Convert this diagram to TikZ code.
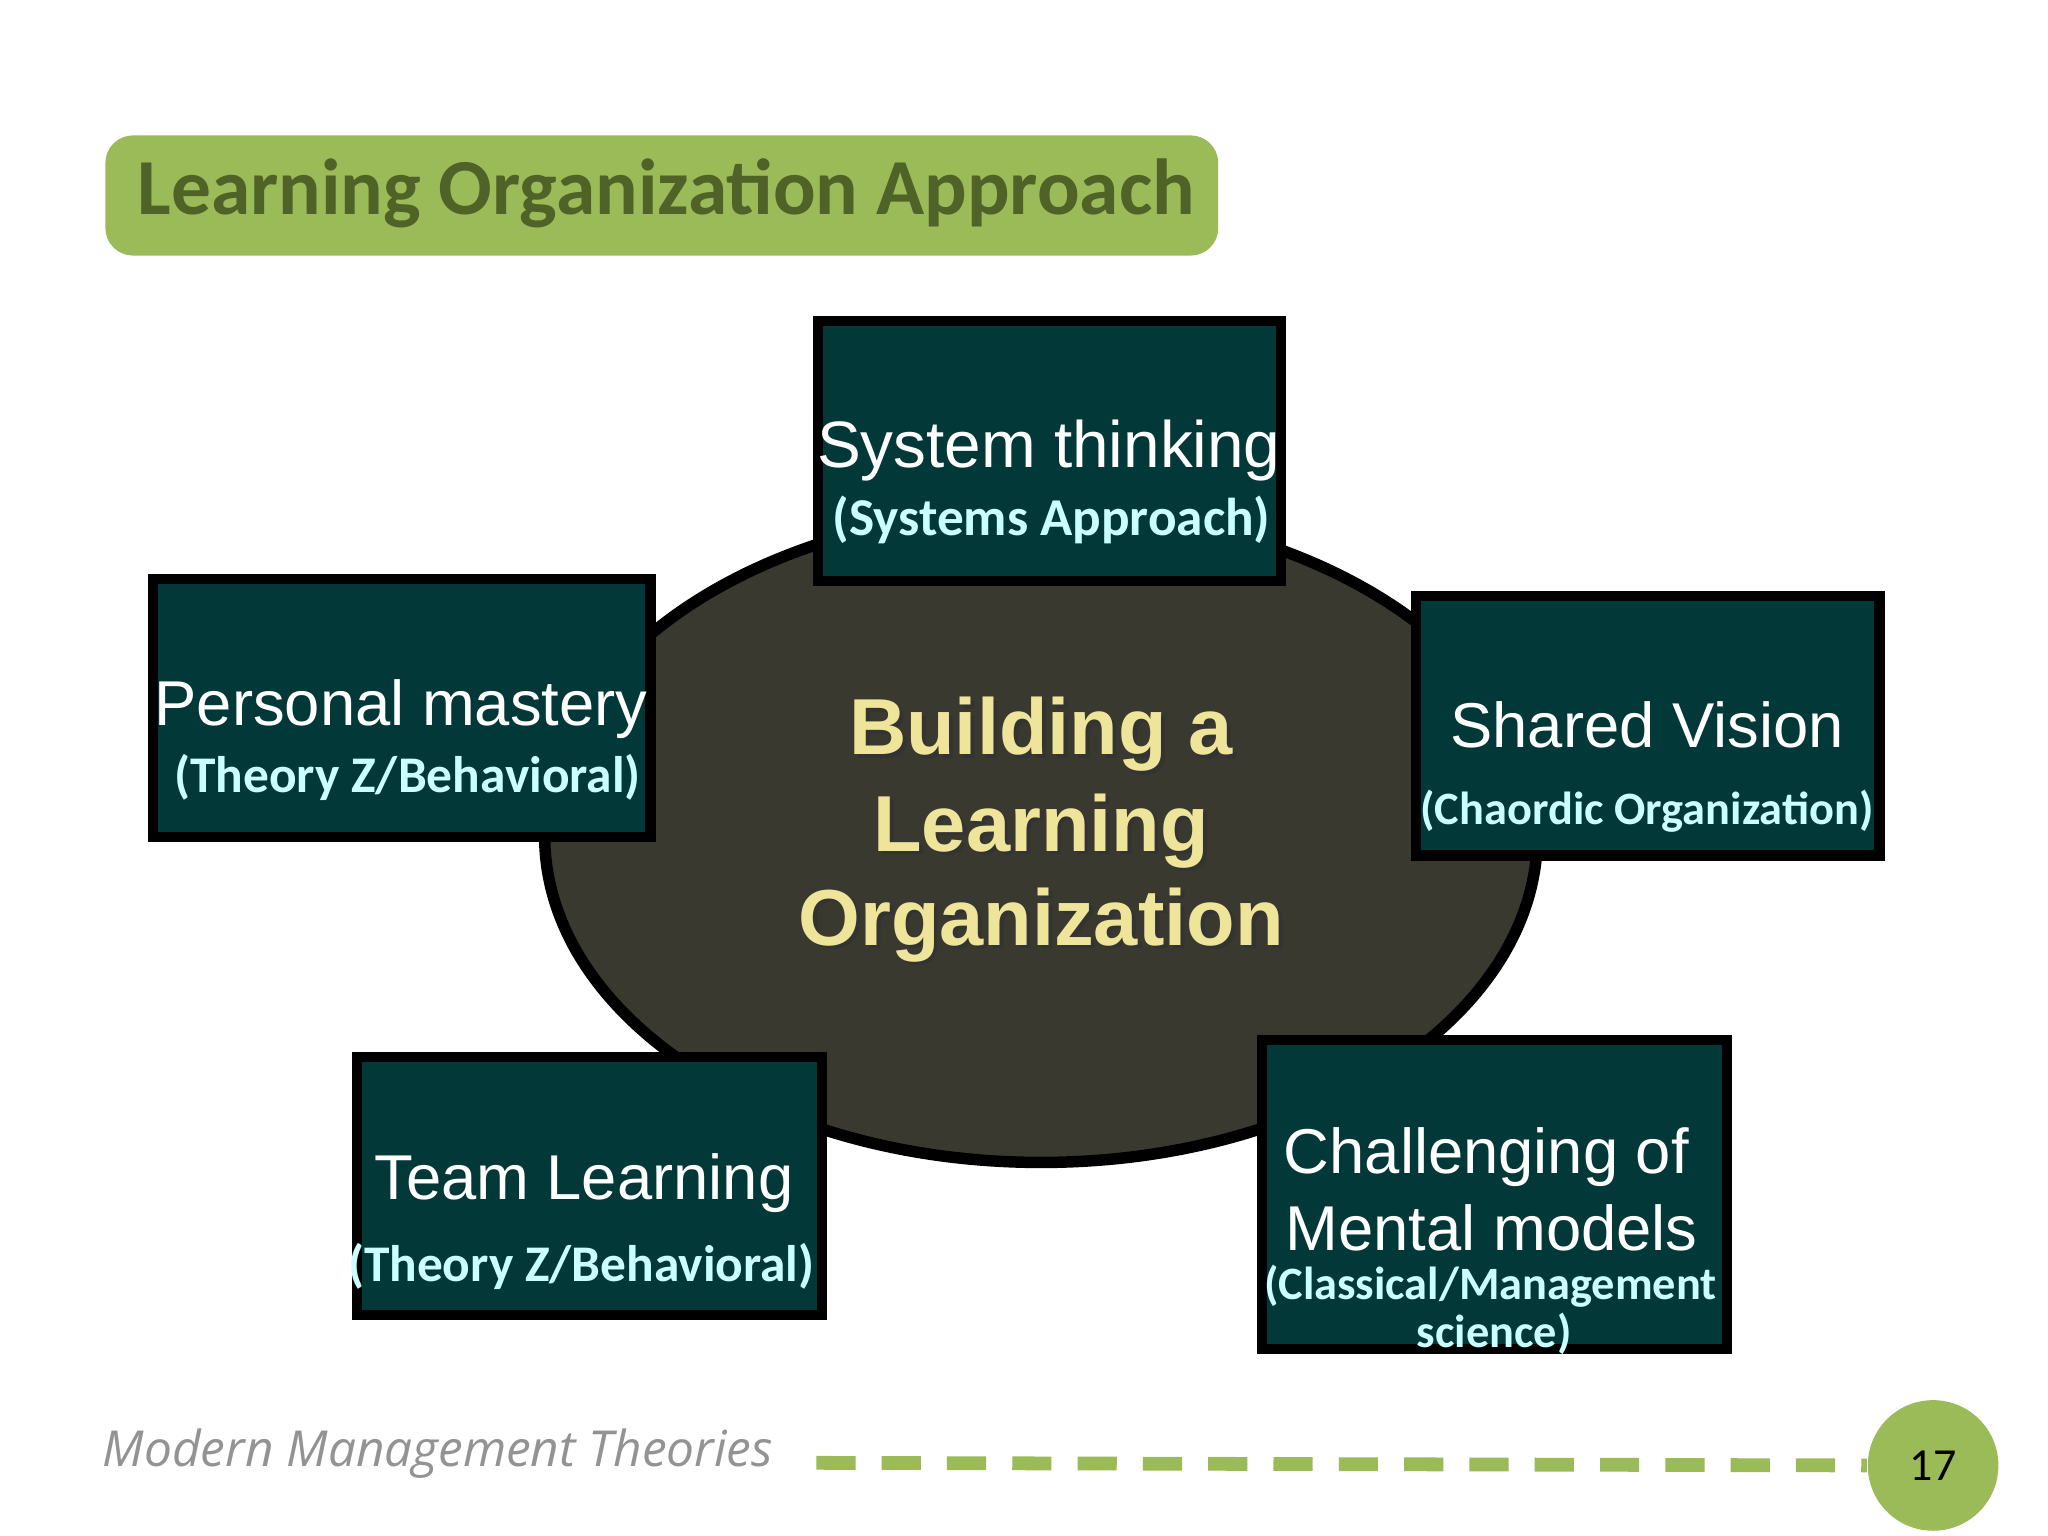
\documentclass[tikz,border=0pt]{standalone}
\usepackage{fontspec}
\setmainfont{Liberation Sans}
\newfontfamily\calfont{Carlito}
\newfontfamily\osi{Open Sans}
\usetikzlibrary{shapes.geometric}
\definecolor{tgreen}{HTML}{9BBB59}
\definecolor{tdark}{HTML}{4F6228}
\definecolor{teal}{HTML}{033838}
\definecolor{olive}{HTML}{3A3930}
\definecolor{cy}{HTML}{CCFFFF}
\definecolor{yel}{HTML}{EEE49A}
\tikzset{
 box/.style={draw=black,line width=2.2pt,fill=teal,inner sep=0pt},
 main/.style={text=white,font=\fontsize{13.8}{16}\selectfont,inner sep=0pt},
 sub/.style={text=cy,font=\calfont\bfseries\fontsize{11.2}{13}\selectfont,inner sep=0pt},
 subs/.style={text=cy,font=\calfont\bfseries\fontsize{10.1}{12}\selectfont,inner sep=0pt},
 ctr/.style={text=yel,font=\bfseries\fontsize{17.3}{20}\selectfont,inner sep=0pt},
 shd/.style={text=black!80,font=\bfseries\fontsize{17.3}{20}\selectfont,inner sep=0pt},
}
\begin{document}
\begin{tikzpicture}
\useasboundingbox (0,0) rectangle (15.68,11.76);
\fill[white] (0,0) rectangle (15.68,11.76);
\node[fill=tgreen,rounded corners=6pt,minimum width=8.52cm,minimum height=0.92cm,anchor=north west] (tb) at (0.80,10.73) {};
\node[text=tdark,font=\calfont\bfseries\fontsize{17.3}{20}\selectfont] (title) at (5.10,10.28) {Learning Organization Approach};
\node[ellipse,draw=black,line width=2.5pt,fill=olive,minimum width=7.6cm,minimum height=5.0cm] (ell) at (7.97,5.36) {};
\node[box,minimum width=3.55cm,minimum height=1.99cm] (bs) at (8.035,8.305) {};
\node[box,minimum width=3.81cm,minimum height=1.98cm] (bp) at (3.075,6.34) {};
\node[box,minimum width=3.55cm,minimum height=1.99cm] (bv) at (12.615,6.205) {};
\node[box,minimum width=3.56cm,minimum height=1.98cm] (bt) at (4.51,2.68) {};
\node[box,minimum width=3.56cm,minimum height=2.37cm] (bc) at (11.44,2.615) {};
\node[main,font=\fontsize{14.3}{16}\selectfont] (s1) at (8.03,8.31) {System thinking};
\node[sub,font=\calfont\bfseries\fontsize{11.6}{13}\selectfont] (s2) at (8.05,7.78) {(Systems Approach)};
\node[main] (p1) at (3.07,6.33) {Personal mastery};
\node[sub] (p2) at (3.12,5.81) {(Theory Z/Behavioral)};
\node[main] (v1) at (12.61,6.21) {Shared Vision};
\node[subs] (v2) at (12.61,5.55) {(Chaordic Organization)};
\node[main] (t1) at (4.47,2.70) {Team Learning};
\node[sub] (t2) at (4.45,2.06) {(Theory Z/Behavioral)};
\node[main] (c1) at (11.38,2.90) {Challenging of};
\node[main] (c2) at (11.42,2.36) {Mental models};
\node[subs] (c3) at (11.41,1.91) {(Classical/Management};
\node[subs] (c4) at (11.44,1.55) {science)};
\foreach \t/\y/\n in {Building a/6.14/x1,Learning/5.40/x2,Organization/4.68/x3}{
 \node[shd] (\n s) at (8.00,\y-0.03) {\t};
 \node[ctr] (\n) at (7.97,\y) {\t};
}
\node[text=gray!85,font=\osi\itshape\fontsize{10.8}{13}\selectfont,anchor=west,inner sep=0pt] (ft) at (0.78,0.63) {Modern Management Theories};
\node[circle,fill=tgreen,minimum size=1.0cm,inner sep=0pt] (pg) at (14.80,0.54) {\calfont\fontsize{10}{12}\selectfont 17};
\coordinate (d0) at (6.25,0.56);
\draw[tgreen,line width=3pt,dash pattern=on 0.3cm off 0.2cm] (d0) -- (pg.west);
\end{tikzpicture}
\end{document}
